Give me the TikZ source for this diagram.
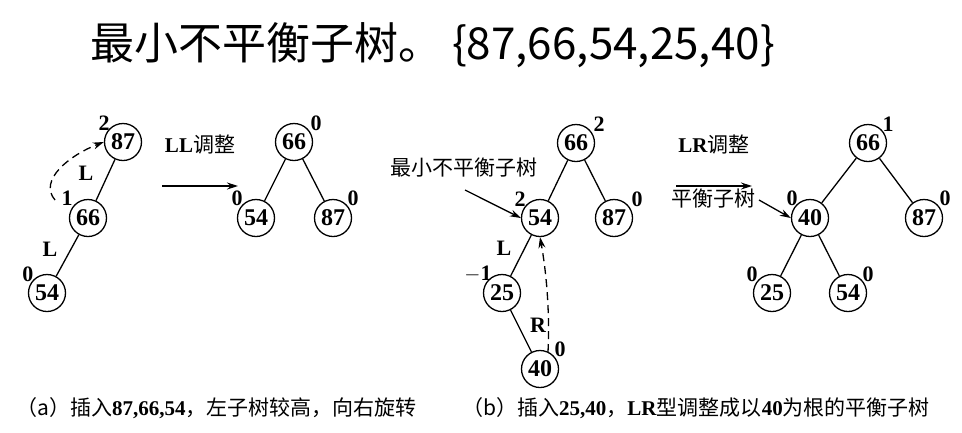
\documentclass[tikz,border=0pt]{standalone}
\usepackage{fontspec}
\setmainfont{Liberation Serif}
\newfontfamily\cjk{Noto Sans CJK SC}
\usetikzlibrary{arrows.meta}
\begin{document}
\begin{tikzpicture}[x=1pt,y=-1pt,
  nd/.style={circle,draw,line width=1.3pt,minimum size=37pt,inner sep=0pt,font=\fontsize{24}{24}\selectfont\bfseries},
  bl/.style={font=\fontsize{22}{22}\selectfont\bfseries,inner sep=0pt},
  ed/.style={line width=1.3pt},
  ar/.style={line width=1.3pt,-{Stealth[length=11pt,width=7pt]}},
  da/.style={line width=1.3pt,dash pattern=on 8pt off 5pt,-{Stealth[length=11pt,width=7pt]}},
  lb/.style={font=\fontsize{22}{22}\selectfont\bfseries,inner sep=0pt},
  cj/.style={font=\cjk\fontsize{21}{21}\selectfont,inner sep=0pt}]
\useasboundingbox (0,0) rectangle (962,432);
\node[anchor=west,inner sep=0pt,font=\cjk\fontsize{44}{44}\selectfont] (title) at (90,45) {最小不平衡子树。 \{87,66,54,25,40\}};
% tree a
\node[nd] (a87) at (123,142) {87};
\node[nd] (a66) at (88,218) {66};
\node[nd] (a54) at (47,293) {54};
\draw[ed] (a87)--(a66) (a66)--(a54);
\node[bl] (ba87) at (104,123) {2};
\node[bl] (ba66) at (67,198) {1};
\node[bl] (ba54) at (28,274) {0};
\node[lb] (la1) at (86,173) {L};
\node[lb] (la2) at (50,249) {L};
\coordinate (ds1) at (55,200);
\draw[da] (ds1) .. controls (38,180) and (70,155) .. (a87.west);
% LL
\coordinate (ll1) at (162,186); \coordinate (ll2) at (238,186);
\draw[ar] (ll1)--(ll2);
\node[anchor=base,inner sep=0pt] (lll) at (200,152) {\fontsize{21}{21}\selectfont\bfseries LL\cjk\mdseries 调整};
% tree a2
\node[nd] (c66) at (294,142) {66};
\node[nd] (c54) at (256,218) {54};
\node[nd] (c87) at (333,218) {87};
\draw[ed] (c66)--(c54) (c66)--(c87);
\node[bl] (bc66) at (316,123) {0};
\node[bl] (bc54) at (237,198) {0};
\node[bl] (bc87) at (353,198) {0};
% tree b
\node[nd] (b66) at (576,143) {66};
\node[nd] (b54) at (540,218) {54};
\node[nd] (b87) at (614,218) {87};
\node[nd] (b25) at (502,293) {25};
\node[nd] (b40) at (540,369) {40};
\draw[ed] (b66)--(b54) (b66)--(b87) (b54)--(b25) (b25)--(b40);
\node[bl] (bb66) at (599,124) {2};
\node[bl] (bb54) at (520,199) {2};
\node[bl] (bb87) at (637,199) {0};
\node[bl] (bb25) at (478,274) {$-$1};
\node[bl] (bb40) at (560,349) {0};
\node[lb] (lb1) at (504,248) {L};
\node[lb] (lb2) at (538,325) {R};
\node[cj,anchor=west] (zx) at (390,168) {最小不平衡子树};
\coordinate (zxs) at (465,190);
\draw[ar] (zxs)--(b54.west);
\coordinate (ds2) at (548,352);
\draw[da] (ds2) .. controls (550,310) and (546,270) .. (b54.south);
% LR
\coordinate (lr1) at (676,186); \coordinate (lr2) at (752,186);
\draw[ar] (lr1)--(lr2);
\node[anchor=base,inner sep=0pt] (lrl) at (714,152) {\fontsize{21}{21}\selectfont\bfseries LR\cjk\mdseries 调整};
% tree b2
\node[nd] (d66) at (868,143) {66};
\node[nd] (d40) at (810,218) {40};
\node[nd] (d87) at (924,218) {87};
\node[nd] (d25) at (772,293) {25};
\node[nd] (d54) at (848,293) {54};
\draw[ed] (d66)--(d40) (d66)--(d87) (d40)--(d25) (d40)--(d54);
\node[bl] (bd66) at (888,124) {1};
\node[bl] (bd40) at (792,198) {0};
\node[bl] (bd87) at (945,198) {0};
\node[bl] (bd25) at (752,274) {0};
\node[bl] (bd54) at (868,274) {0};
\node[cj,anchor=west] (ph) at (671,199) {平衡子树};
\coordinate (phs) at (759,200);
\draw[ar] (phs)--(d40.west);
% captions
\node[anchor=west,inner sep=0pt] (capa) at (16,408) {\cjk\fontsize{21}{21}\selectfont（a）插入\textbf{\rmfamily 87,66,54}，左子树较高，向右旋转};
\node[anchor=west,inner sep=0pt] (capb) at (462,408) {\cjk\fontsize{21}{21}\selectfont（b）插入\textbf{\rmfamily 25,40}，\textbf{\rmfamily LR}型调整成以\textbf{\rmfamily 40}为根的平衡子树};
\end{tikzpicture}
\end{document}
